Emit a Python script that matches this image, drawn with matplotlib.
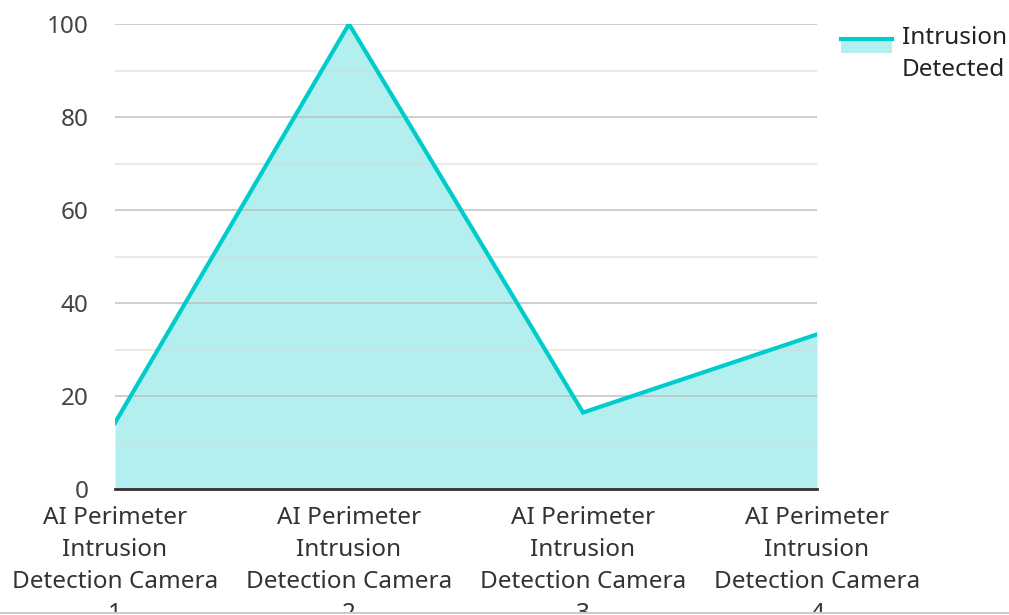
import matplotlib
matplotlib.use("Agg")
import matplotlib.pyplot as plt
from matplotlib.patches import Rectangle
from matplotlib.lines import Line2D
from matplotlib.legend_handler import HandlerBase

plt.rcParams["font.family"] = ["Noto Sans", "DejaVu Sans"]

# --- dados ---
cameras = [
    "AI Perimeter\nIntrusion\nDetection Camera\n1",
    "AI Perimeter\nIntrusion\nDetection Camera\n2",
    "AI Perimeter\nIntrusion\nDetection Camera\n3",
    "AI Perimeter\nIntrusion\nDetection Camera\n4",
]
intrusoes = [14.3, 100, 16.5, 33.3]
serie_nome = "Intrusion\nDetected"

COR_LINHA = "#00CCCC"
COR_AREA = "#B2EFEE"


class HandlerAreaLinha(HandlerBase):
    """Handle da legenda: faixa preenchida com a linha no topo."""
    def create_artists(self, legend, orig, xd, yd, w, h, fontsize, trans):
        topo = yd + h * 1.4
        ret = Rectangle((xd, topo - h * 0.8), w, h * 0.8,
                        facecolor=COR_AREA, edgecolor="none", transform=trans)
        lin = Line2D([xd, xd + w], [topo, topo], color=COR_LINHA, lw=3,
                     transform=trans)
        return [ret, lin]


fig = plt.figure(figsize=(10.09, 6.15), dpi=100)
ax = fig.add_axes([115 / 1009, (615 - 489.3) / 615,
                   (817 - 115) / 1009, (489.3 - 24) / 615])

x = list(range(len(cameras)))
ax.fill_between(x, intrusoes, 0, color=COR_AREA, lw=0, zorder=1)
ax.plot(x, intrusoes, color=COR_LINHA, lw=3, zorder=3, solid_joinstyle="miter")

ax.set_xlim(0, len(cameras) - 1)
ax.set_ylim(0, 100)
ax.set_yticks(range(0, 101, 20))
ax.set_yticks(range(10, 100, 20), minor=True)
ax.grid(True, which="major", axis="y", color="#bdbdbd", lw=1.3, alpha=0.8, zorder=2)
ax.grid(True, which="minor", axis="y", color="#d8d8d8", lw=1.3, alpha=0.6, zorder=2)
ax.set_axisbelow(False)

ax.set_xticks(x)
ax.set_xticklabels(cameras, fontsize=17.5, color="#333333", linespacing=1.45)
ax.tick_params(axis="y", labelsize=17.5, labelcolor="#444444", length=0, pad=19,
               which="both")
ax.tick_params(axis="x", length=0, pad=12)

for lado in ["top", "right", "left"]:
    ax.spines[lado].set_visible(False)
ax.spines["bottom"].set_color("#333333")
ax.spines["bottom"].set_linewidth(2)
ax.spines["bottom"].set_zorder(4)

handle = Rectangle((0, 0), 1, 1)
leg = fig.legend([handle], [serie_nome], handler_map={Rectangle: HandlerAreaLinha()},
                 loc="upper left", bbox_to_anchor=(841 / 1009, 1 - 26 / 615),
                 frameon=False, fontsize=17.5, handlelength=2.1, handletextpad=0.4,
                 labelcolor="#222222", borderaxespad=0, borderpad=0)
for t in leg.get_texts():
    t.set_linespacing(1.45)

# faixa inferior que corta os rotulos
fig.patches.append(Rectangle((0, 0), 1, 2.5 / 615, transform=fig.transFigure,
                             facecolor="white", edgecolor="none", zorder=10))
fig.lines.append(Line2D([0, 1], [2.5 / 615, 2.5 / 615], transform=fig.transFigure,
                        color="#cccccc", lw=1.5, zorder=11))

fig.savefig("out.png", dpi=100)
plt.close(fig)
